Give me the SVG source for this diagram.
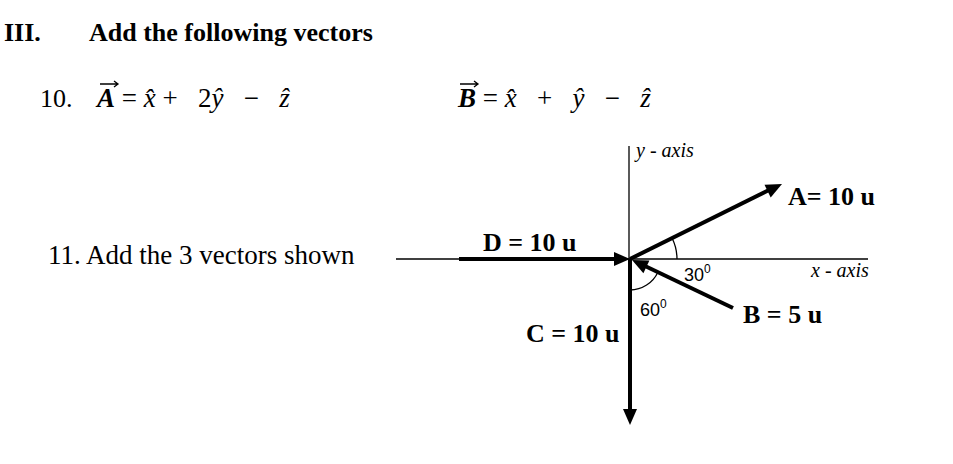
<svg xmlns="http://www.w3.org/2000/svg" width="953" height="464" viewBox="0 0 953 464">
<style>
.t{font-family:"Liberation Serif",serif;fill:#000}
.b{font-weight:bold}
.s{font-family:"Liberation Sans",sans-serif;font-size:18px}
.thin{stroke:#000;stroke-width:1.3;fill:none}
.thick{stroke:#000;stroke-width:4;fill:none}
.head{fill:#000}
</style>
<rect width="953" height="464" fill="#fff"/>
<text class="t b" x="4" y="41" font-size="26">III.</text>
<text class="t b" x="89" y="41" font-size="26">Add the following vectors</text>
<text class="t" x="40" y="107" font-size="26">10.</text>
<text class="t" x="97" y="107" font-size="27" xml:space="preserve"><tspan font-weight="bold" font-style="italic">A</tspan> = <tspan font-style="italic">x̂</tspan> +   2<tspan font-style="italic">ŷ</tspan>   −   <tspan font-style="italic">ẑ</tspan></text>
<text class="t" x="458" y="107" font-size="27" xml:space="preserve"><tspan font-weight="bold" font-style="italic">B</tspan> = <tspan font-style="italic">x̂</tspan>   +   <tspan font-style="italic">ŷ</tspan>   −   <tspan font-style="italic">ẑ</tspan></text>
<path class="thin" d="M100,84 L118,84 M114,81 L118,84 L114,87"/>
<path class="thin" d="M460,84 L478,84 M474,81 L478,84 L474,87"/>
<text class="t" x="48" y="264" font-size="27">11.  Add the 3 vectors shown</text>
<g id="axes">
<line class="thin" x1="629" y1="146" x2="629" y2="259"/>
<line class="thin" x1="396" y1="259" x2="868" y2="259"/>
<text class="t" x="636" y="157" font-size="20" font-style="italic">y - axis</text>
<text class="t" x="811" y="277" font-size="20" font-style="italic">x - axis</text>
</g>
<g id="connectors">
<line class="thick" x1="459" y1="259" x2="616" y2="259"/>
<polygon class="head" points="630,259 614,252 614,266"/>
<line class="thick" x1="630" y1="259" x2="769" y2="190"/>
<polygon class="head" points="782,184 764.5,184.8 770.7,197.4"/>
<line class="thick" x1="733" y1="308" x2="645" y2="266"/>
<polygon class="head" points="632,260 649.4,260.6 643.4,273.2"/>
<line class="thick" x1="630" y1="259" x2="630" y2="411"/>
<polygon class="head" points="630,425 623,409 637,409"/>
<path class="thin" d="M677,259 A47,47 0 0 0 672,238"/>
<path class="thin" d="M630,290 A31,31 0 0 0 658,272"/>
</g>
<g id="labels">
<text class="t b" x="788" y="205" font-size="26">A= 10 u</text>
<text class="t b" x="483" y="251" font-size="26">D = 10 u</text>
<text class="t b" x="743" y="323" font-size="26">B = 5 u</text>
<text class="t b" x="526" y="342" font-size="26">C = 10 u</text>
<text class="s" x="684" y="281">30<tspan font-size="12" dy="-8">0</tspan></text>
<text class="s" x="640" y="316">60<tspan font-size="12" dy="-8">0</tspan></text>
</g>
</svg>
